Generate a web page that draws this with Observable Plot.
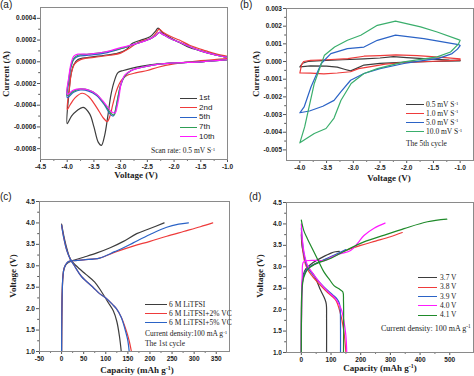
<!DOCTYPE html>
<html><head><meta charset="utf-8">
<script src="https://cdn.jsdelivr.net/npm/d3@7"></script>
<script src="https://cdn.jsdelivr.net/npm/@observablehq/plot@0.6"></script>
<style>
body{margin:0;background:#fff;}
#wrap{position:relative;width:474px;height:376px;overflow:hidden;background:#fff;}
.t{position:absolute;white-space:nowrap;line-height:1;color:#222;}
.serif{font-family:"Liberation Serif","DejaVu Serif",serif;}
.sans{font-family:"Liberation Sans",Arial,sans-serif;}
.title{font-family:"Liberation Serif",serif;font-weight:bold;font-size:9px;}
.rot{transform:translate(-50%,-50%) rotate(-90deg);}
.ctr{transform:translate(-50%,-50%);}
.sw{position:absolute;height:0;border-top:1.4px solid;}
sup{font-size:0.65em;vertical-align:0;position:relative;top:-0.5em;}
</style></head>
<body><div id="wrap"></div>
<script>
// ---------- Panel (a): CV at 0.5 mV/s, cycles ----------
const aNames = ["1st","2nd","5th","7th","10th"];
const aColors = ["#3d3d3d","#ee3b3b","#2b63c6","#2e9e55","#ff1aff"];
const a1st = [[-1.0,0.00002],[-1.5,0.0],[-2.0,-0.00001],[-2.3,-0.00002],[-2.6,-0.00004],[-2.8,-0.00006],[-2.95,-0.00008],[-3.05,-0.0001],[-3.12,-0.00018],[-3.18,-0.0003],[-3.24,-0.0005],[-3.3,-0.00068],[-3.36,-0.00077],[-3.42,-0.00074],[-3.5,-0.0006],[-3.58,-0.00048],[-3.7,-0.00042],[-3.82,-0.00045],[-3.92,-0.0005],[-4.0,-0.00057],
  [-3.97,-0.0003],[-3.93,-0.00012],[-3.88,-0.00003],[-3.8,0.00002],[-3.6,0.00004],[-3.3,0.00006],[-3.05,0.00008],[-2.9,0.00011],[-2.78,0.00017],[-2.62,0.0002],[-2.45,0.00023],[-2.35,0.00028],[-2.3,0.00031],[-2.22,0.00027],[-2.1,0.00023],[-1.95,0.00019],[-1.75,0.00014],[-1.5,0.0001],[-1.2,0.00006],[-1.0,0.00004]];
const a2nd = [[-1.0,0.00003],[-1.5,0.00001],[-2.0,-0.00002],[-2.3,-0.00005],[-2.5,-0.00008],[-2.7,-0.0001],[-2.9,-0.00013],[-3.0,-0.00018],[-3.08,-0.00027],[-3.15,-0.0004],[-3.2,-0.0005],[-3.25,-0.00055],[-3.32,-0.00052],[-3.45,-0.00042],[-3.6,-0.00032],[-3.72,-0.00029],[-3.85,-0.00033],[-3.95,-0.0004],[-4.0,-0.00044],
  [-3.96,-0.00025],[-3.92,-0.0001],[-3.86,-0.00002],[-3.75,0.00002],[-3.5,0.00004],[-3.2,0.00006],[-3.0,0.00008],[-2.85,0.00012],[-2.7,0.00017],[-2.55,0.0002],[-2.42,0.00022],[-2.33,0.00027],[-2.28,0.0003],[-2.2,0.00027],[-2.05,0.00023],[-1.9,0.0002],[-1.7,0.00015],[-1.4,0.0001],[-1.2,0.00007],[-1.0,0.00005]];
const a5th = [[-1.0,0.00002],[-1.5,0.0],[-2.0,-0.00001],[-2.4,-0.00003],[-2.6,-0.00005],[-2.8,-0.00008],[-2.92,-0.00013],[-3.0,-0.00022],[-3.06,-0.00035],[-3.1,-0.00045],[-3.14,-0.0005],[-3.2,-0.00048],[-3.3,-0.0004],[-3.45,-0.00031],[-3.6,-0.00027],[-3.75,-0.00026],[-3.88,-0.00028],[-4.0,-0.00033],
  [-3.97,-0.00018],[-3.93,-0.00005],[-3.88,0.00002],[-3.8,0.00005],[-3.6,0.00006],[-3.3,0.00008],[-3.0,0.00012],[-2.75,0.00016],[-2.5,0.0002],[-2.35,0.00024],[-2.28,0.00027],[-2.2,0.00025],[-2.05,0.00021],[-1.9,0.00018],[-1.5,0.0001],[-1.2,0.00006],[-1.0,0.00004]];
const a7th = [[-1.0,0.00002],[-1.5,0.0],[-2.0,-0.00001],[-2.4,-0.00003],[-2.6,-0.00005],[-2.8,-0.00008],[-2.92,-0.00013],[-3.0,-0.00021],[-3.05,-0.00033],[-3.09,-0.00043],[-3.12,-0.00049],[-3.19,-0.00047],[-3.3,-0.00039],[-3.45,-0.0003],[-3.6,-0.00026],[-3.75,-0.00025],[-3.88,-0.00027],[-4.0,-0.00031],
  [-3.97,-0.00016],[-3.93,-0.00004],[-3.88,0.00003],[-3.8,0.00006],[-3.6,0.00007],[-3.3,0.00009],[-3.0,0.00012],[-2.75,0.00016],[-2.5,0.0002],[-2.35,0.00024],[-2.28,0.00027],[-2.2,0.00025],[-2.05,0.00021],[-1.9,0.00018],[-1.5,0.0001],[-1.2,0.00006],[-1.0,0.00004]];
const a10th = [[-1.0,0.00002],[-1.5,0.0],[-2.0,-0.00001],[-2.4,-0.00003],[-2.6,-0.00005],[-2.8,-0.00008],[-2.92,-0.00012],[-2.99,-0.0002],[-3.03,-0.00032],[-3.07,-0.00042],[-3.1,-0.00047],[-3.17,-0.00046],[-3.3,-0.00038],[-3.45,-0.0003],[-3.6,-0.00026],[-3.75,-0.00025],[-3.88,-0.00026],[-4.0,-0.0003],
  [-3.97,-0.00014],[-3.93,-0.00002],[-3.88,0.00005],[-3.8,0.00007],[-3.6,0.00007],[-3.3,0.00009],[-3.0,0.00013],[-2.75,0.00016],[-2.5,0.0002],[-2.35,0.00024],[-2.28,0.00027],[-2.2,0.00025],[-2.05,0.00021],[-1.9,0.00018],[-1.5,0.0001],[-1.2,0.00006],[-1.0,0.00004]];
const aXTicks = [-4.5,-4.0,-3.5,-3.0,-2.5,-2.0,-1.5,-1.0];
const aYTicks = [-0.0008,-0.0006,-0.0004,-0.0002,0,0.0002,0.0004];

// ---------- Panel (b): CV, 5th cycle, scan rates ----------
const bNames = ["0.5 mV S","1.0 mV S","5.0 mV S","10.0 mV S"];
const bColors = ["#3d3d3d","#ee3b3b","#2b63c6","#3aae6c"];
const b05 = [[-1.0,0.00004],[-1.5,0.0],[-2.0,-0.00003],[-2.5,-0.0001],[-2.8,-0.0002],[-2.95,-0.0004],[-3.05,-0.00053],[-3.15,-0.00045],[-3.3,-0.00032],[-3.5,-0.00026],[-3.8,-0.00025],[-4.0,-0.0003],
  [-3.95,-0.0001],[-3.85,0.0],[-3.6,0.00005],[-3.2,0.0001],[-2.8,0.00015],[-2.5,0.0002],[-2.25,0.00028],[-2.0,0.00022],[-1.6,0.00015],[-1.2,0.00008],[-1.0,0.00006]];
const b10 = [[-1.0,0.00008],[-1.3,0.00004],[-1.6,0.0],[-2.0,-0.00005],[-2.4,-0.00015],[-2.7,-0.0003],[-2.9,-0.0004],[-3.05,-0.00058],[-3.3,-0.00065],[-3.55,-0.0007],[-3.8,-0.00066],[-4.0,-0.00065],
  [-3.97,-0.0002],[-3.93,0.0],[-3.8,0.00006],[-3.5,0.0001],[-3.1,0.00016],[-2.8,0.0003],[-2.5,0.00033],[-2.2,0.00038],[-1.8,0.00033],[-1.4,0.00025],[-1.0,0.00015]];
const b50 = [[-1.0,0.0009],[-1.05,0.0007],[-1.15,0.00045],[-1.4,0.00018],[-1.7,0.00005],[-2.05,-0.00011],[-2.5,-0.0004],[-2.8,-0.00068],[-3.05,-0.00106],[-3.23,-0.0017],[-3.36,-0.0022],[-3.57,-0.00253],[-3.82,-0.0028],[-4.0,-0.0029],
  [-3.92,-0.00257],[-3.79,-0.00143],[-3.6,-0.00011],[-3.42,0.00045],[-3.11,0.00073],[-2.8,0.00082],[-2.55,0.0012],[-2.21,0.00149],[-1.68,0.0013],[-1.03,0.00096],[-1.0,0.0009]];
const b100 = [[-1.0,0.0012],[-1.03,0.001],[-1.18,0.00054],[-1.43,0.00026],[-2.05,-0.00002],[-2.55,-0.0004],[-2.8,-0.00068],[-3.04,-0.00124],[-3.23,-0.00219],[-3.36,-0.0032],[-3.51,-0.00379],[-3.73,-0.00407],[-4.0,-0.0046],
  [-3.91,-0.0037],[-3.73,-0.00124],[-3.54,0.00036],[-3.35,0.00082],[-3.11,0.0012],[-2.86,0.00149],[-2.55,0.00205],[-2.21,0.00229],[-1.74,0.00196],[-1.43,0.00167],[-1.03,0.00124],[-1.0,0.0012]];
const bXTicks = [-4.0,-3.5,-3.0,-2.5,-2.0,-1.5,-1.0];
const bYTicks = [-0.005,-0.004,-0.003,-0.002,-0.001,0,0.001,0.002,0.003];

// ---------- Panel (c): charge/discharge, electrolytes ----------
const cNames = ["6 M LiTFSI","6 M LiTFSI+2% VC","6 M LiTFSI+5% VC"];
const cColors = ["#3d3d3d","#ee3b3b","#2b63c6"];
const c0Charge = [[0,1.0],[0.5,1.8],[1.5,2.4],[3,2.75],[6,2.95],[12,3.05],[25,3.12],[50,3.2],[80,3.3],[110,3.42],[140,3.57],[170,3.75],[200,3.87],[232,4.0]];
const c0Discharge = [[0,3.97],[5,3.7],[12,3.4],[20,3.15],[33,3.0],[55,2.8],[75,2.62],[90,2.4],[105,2.15],[117,1.95],[125,1.7],[131,1.35],[135,1.0]];
const c2Charge = [[0,1.0],[0.5,1.8],[1.5,2.4],[3,2.75],[6,2.95],[12,3.07],[18,3.11],[30,3.12],[50,3.14],[86,3.18],[124,3.33],[162,3.46],[200,3.57],[238,3.69],[276,3.8],[314,3.91],[342,4.0]];
const c2Discharge = [[0,3.95],[5,3.65],[12,3.35],[20,3.15],[29,3.0],[45,2.75],[71,2.5],[86,2.35],[100,2.25],[115,2.1],[124,2.0],[135,1.8],[146,1.5],[153,1.25],[158,1.0]];
const c5Charge = [[0,1.0],[0.5,1.8],[1.5,2.4],[3,2.75],[6,2.95],[12,3.07],[18,3.11],[30,3.12],[50,3.14],[86,3.18],[120,3.33],[140,3.42],[163,3.54],[200,3.73],[238,3.9],[265,3.97],[287,4.0]];
const c5Discharge = [[0,3.95],[5,3.65],[12,3.35],[20,3.15],[29,3.0],[45,2.75],[71,2.5],[86,2.35],[100,2.25],[115,2.1],[124,2.0],[135,1.8],[144,1.5],[150,1.25],[153,1.0]];
const cXTicks = [-50,0,50,100,150,200,250,300,350];
const cYTicks = [1.0,1.5,2.0,2.5,3.0,3.5,4.0,4.5];

// ---------- Panel (d): charge/discharge, cut-off voltages ----------
const dNames = ["3.7 V","3.8 V","3.9 V","4.0 V","4.1 V"];
const dColors = ["#3d3d3d","#ee3b3b","#2b63c6","#ff1aff","#1f8a2a"];
const d37Charge = [[0,1.0],[0.5,2.0],[2,2.5],[6,2.8],[15,2.95],[40,3.1],[70,3.22],[100,3.32],[115,3.35],[128,3.36]];
const d37Discharge = [[0,3.75],[3,3.45],[9,3.27],[20,3.0],[43,2.8],[65,2.45],[79,2.25],[84,2.13],[85,1.8],[85,1.0]];
const d38Charge = [[0,1.0],[0.5,2.0],[2,2.5],[8,2.8],[20,2.95],[50,3.08],[100,3.22],[150,3.38],[200,3.5],[250,3.6],[300,3.7],[340,3.8]];
const d38Discharge = [[0,3.8],[4,3.45],[10,3.15],[20,2.95],[35,2.8],[60,2.6],[85,2.42],[105,2.3],[118,2.2],[128,2.0],[137,1.75],[145,1.4],[150,1.0]];
const d39Charge = [[0,1.0],[0.5,2.0],[2,2.5],[8,2.8],[20,2.96],[50,3.08],[100,3.24],[150,3.4]];
const d39Discharge = [[0,3.9],[4,3.55],[10,3.25],[20,3.0],[35,2.85],[60,2.65],[85,2.47],[105,2.35],[120,2.25],[128,2.15],[131,2.0],[132,1.5],[132,1.0]];
const d40Charge = [[0,1.0],[1,2.2],[3,2.8],[6,3.1],[15,3.14],[50,3.15],[82,3.15],[100,3.22],[130,3.3],[166,3.38],[190,3.55],[211,3.73],[245,3.9],[282,4.02]];
const d40Discharge = [[0,4.0],[4,3.6],[10,3.3],[20,3.05],[35,2.88],[60,2.65],[90,2.42],[112,2.28],[125,2.15],[135,2.0],[143,1.75],[150,1.4],[153,1.0]];
const d41Charge = [[0,1.0],[0.5,2.0],[2,2.45],[8,2.75],[20,2.93],[43,3.05],[100,3.2],[150,3.38],[211,3.58],[280,3.74],[346,3.89],[425,4.05],[490,4.11]];
const d41Discharge = [[0,4.09],[8,3.85],[20,3.66],[43,3.34],[60,3.1],[76,2.88],[95,2.7],[110,2.56],[130,2.47],[140,2.41],[142,2.2],[142,1.0]];
const dXTicks = [0,100,200,300,400,500];
const dYTicks = [1.0,1.5,2.0,2.5,3.0,3.5,4.0,4.5];

const wrap = document.getElementById("wrap");
function fixed(n){ return v => { const s = (+v).toFixed(n); return (+s === 0) ? (0).toFixed(n) : s; }; }
function minor(ticks){ const out=[]; for(let i=0;i<ticks.length-1;i++) out.push((ticks[i]+ticks[i+1])/2); return out; }

function drawPanel(p){
  const marks = [
    Plot.axisX(minor(p.xTicks), {tickSize: 1.8, fill: "none", stroke: "#555", label: null}),
    Plot.axisY(minor(p.yTicks), {tickSize: 1.8, fill: "none", stroke: "#555", label: null}),
    Plot.axisX(p.xTicks, {tickSize: 3, tickPadding: 1.5, tickFormat: p.xFmt, stroke: "#555", fill: "#222", label: null}),
    Plot.axisY(p.yTicks, {tickSize: 3, tickPadding: 1.5, tickFormat: p.yFmt, stroke: "#555", fill: "#222", label: null}),
  ];
  p.series.forEach(s => marks.push(Plot.line(s.pts, {x: d => d[0], y: d => d[1], stroke: s.color, strokeWidth: 1.2, curve: p.curve})));
  marks.push(Plot.frame({stroke: "#8a8a8a", strokeWidth: 1}));
  const svg = Plot.plot({
    width: p.w, height: p.h,
    marginLeft: p.ml, marginRight: p.mr, marginTop: p.mt, marginBottom: p.mb,
    x: {domain: p.xDomain, label: null},
    y: {domain: p.yDomain, label: null},
    style: {fontFamily: "'Liberation Sans', Arial, sans-serif", fontSize: "6.5px", fontWeight: "bold", color: "#222", background: "transparent", overflow: "visible"},
    marks
  });
  svg.style.position = "absolute";
  svg.style.left = p.left + "px";
  svg.style.top = p.top + "px";
  wrap.appendChild(svg);
}

drawPanel({left: 0, top: 0, w: 237, h: 188, ml: 40, mr: 10, mt: 7, mb: 29,
  xDomain: [-4.5, -1.0], yDomain: [-0.0009, 0.0005], xTicks: aXTicks, yTicks: aYTicks,
  xFmt: fixed(1), yFmt: fixed(4), curve: "catmull-rom",
  series: [a1st, a2nd, a5th, a7th, a10th].map((pts, i) => ({pts, color: aColors[i]}))});
drawPanel({left: 237, top: 0, w: 237, h: 188, ml: 49, mr: 1, mt: 8, mb: 28,
  xDomain: [-4.25, -0.75], yDomain: [-0.0056, 0.003], xTicks: bXTicks, yTicks: bYTicks,
  xFmt: fixed(1), yFmt: fixed(3), curve: "linear",
  series: [b05, b10, b50, b100].map((pts, i) => ({pts, color: bColors[i]}))});
drawPanel({left: 0, top: 188, w: 237, h: 188, ml: 39, mr: 8, mt: 13, mb: 25,
  xDomain: [-50, 380], yDomain: [1.0, 4.5], xTicks: cXTicks, yTicks: cYTicks,
  xFmt: v => String(v), yFmt: fixed(1), curve: "catmull-rom",
  series: [[c0Charge,0],[c0Discharge,0],[c2Charge,1],[c2Discharge,1],[c5Charge,2],[c5Discharge,2]].map(([pts, i]) => ({pts, color: cColors[i]}))});
drawPanel({left: 237, top: 188, w: 237, h: 188, ml: 49, mr: 1, mt: 14, mb: 24,
  xDomain: [-50, 580], yDomain: [1.0, 4.5], xTicks: dXTicks, yTicks: dYTicks,
  xFmt: v => String(v), yFmt: fixed(1), curve: "catmull-rom",
  series: [[d37Charge,0],[d37Discharge,0],[d38Charge,1],[d38Discharge,1],[d39Charge,2],[d39Discharge,2],[d40Charge,3],[d40Discharge,3],[d41Charge,4],[d41Discharge,4]].map(([pts, i]) => ({pts, color: dColors[i]}))});

// ---------- text overlays ----------
function txt(html, x, y, cls, size){
  const d = document.createElement("div");
  d.className = "t " + cls; d.innerHTML = html;
  d.style.left = x + "px"; d.style.top = y + "px";
  if (size) d.style.fontSize = size + "px";
  wrap.appendChild(d); return d;
}
function swatch(x1, x2, y, color){
  const d = document.createElement("div");
  d.className = "sw"; d.style.left = x1 + "px"; d.style.width = (x2 - x1) + "px";
  d.style.top = (y - 0.7) + "px"; d.style.borderTopColor = color;
  wrap.appendChild(d);
}
// panel tags
txt("(a)", 0, 0, "sans", 10);
txt("(b)", 240, 0, "sans", 10);
txt("(c)", 0, 192, "sans", 10);
txt("(d)", 249, 192, "sans", 10);
// axis titles
txt("Current (A)", 6, 74, "title rot");
txt("Voltage (V)", 136, 175, "title ctr");
txt("Current (A)", 256, 74, "title rot");
txt("Voltage (V)", 389, 178, "title ctr");
txt("Voltage (V)", 13, 276, "title rot");
txt("Capacity (mAh g<sup>-1</sup>)", 137, 370, "title ctr");
txt("Voltage (V)", 260, 276, "title rot");
txt("Capacity (mAh g<sup>-1</sup>)", 380, 368, "title ctr");
// legend (a)
const aLegY = [98.3, 108, 117.7, 127.3, 137];
aNames.forEach((n, i) => { swatch(180, 197, aLegY[i], aColors[i]); txt(n, 199, aLegY[i] - 4.5, "sans", 8); });
txt("Scan rate: 0.5 mV S<sup>-1</sup>", 151, 147, "serif", 7.5);
// legend (b)
const bLegY = [105, 113.8, 122.8, 132];
bNames.forEach((n, i) => { swatch(406, 424, bLegY[i], bColors[i]); txt(n + "<sup>-1</sup>", 426, bLegY[i] - 4, "serif", 7.5); });
txt("The 5th cycle", 406, 139.5, "serif", 7.5);
// legend (c)
const cLegY = [304.7, 313.8, 322.5];
cNames.forEach((n, i) => { swatch(145, 167, cLegY[i], cColors[i]); txt(n, 169, cLegY[i] - 4, "serif", 7.5); });
txt("Current density:100 mA g<sup>-1</sup>", 145, 330, "serif", 7.5);
txt("The 1st cycle", 145, 340, "serif", 7.5);
// legend (d)
const dLegY = [278, 287.3, 296.7, 306, 315.3];
dNames.forEach((n, i) => { swatch(418, 437, dLegY[i], dColors[i]); txt(n, 440, dLegY[i] - 4, "serif", 7.5); });
txt("Current density: 100 mA g<sup>-1</sup>", 381, 325, "serif", 8);
</script>
</body></html>
